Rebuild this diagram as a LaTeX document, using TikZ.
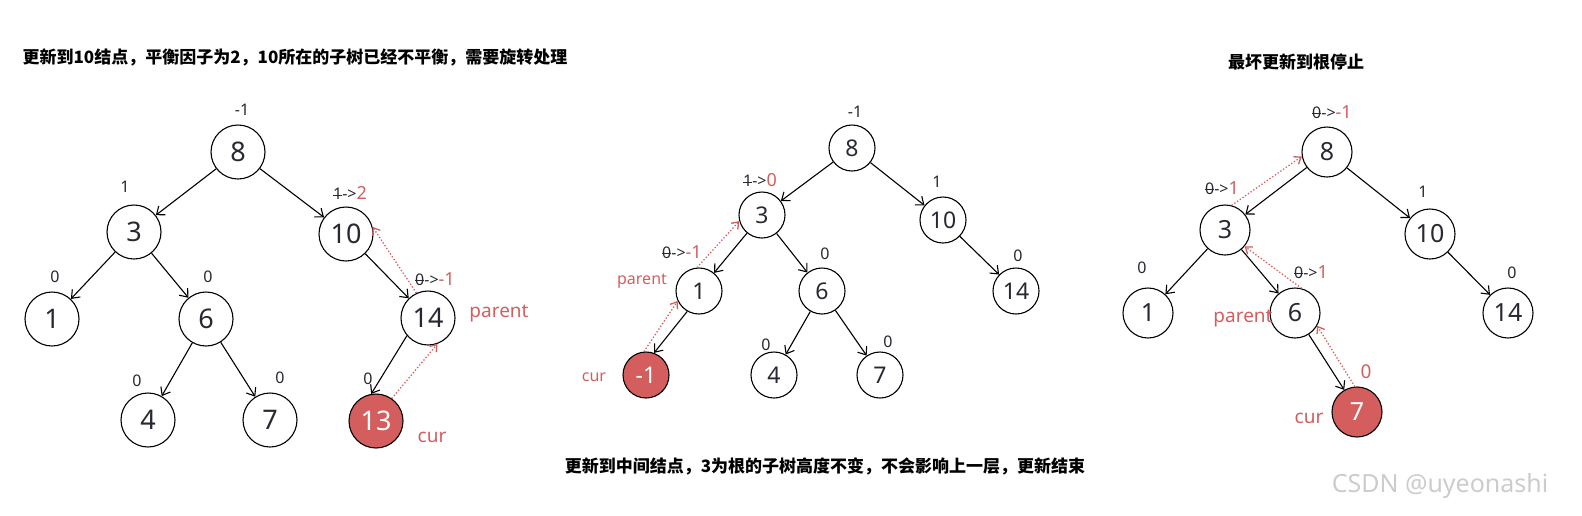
\documentclass[tikz,border=0pt]{standalone}
\usepackage{fontspec}
\setmainfont{Noto Sans CJK SC}
\newfontfamily\lbl{Noto Sans}
\usetikzlibrary{arrows.meta}
\definecolor{rd}{RGB}{212,94,94}
\definecolor{tx}{RGB}{40,40,50}
\newsavebox\stbox
\newcommand\strk[1]{\sbox\stbox{#1}\rlap{\rule[0.5ex]{\wd\stbox}{0.6pt}}\usebox\stbox}
\tikzset{
 nd/.style={circle,draw,line width=1.1pt,minimum size=#1,inner sep=0pt,font=\lbl\fontsize{27}{27}\selectfont,text=tx},
 nd/.default=54pt,
 hot/.style={fill=rd,text=white},
 bf/.style={font=\lbl\fontsize{16}{16}\selectfont,text=tx},
 rl/.style={font=\lbl\fontsize{19}{19}\selectfont,text=rd},
 ed/.style={-{Straight Barb[length=7pt,width=11pt]},line width=1.1pt},
 rp/.style={-{Straight Barb[length=6pt,width=9pt]},rd,dotted,line width=1.3pt},
 ti/.style={font=\bfseries\fontsize{17}{17}\selectfont}
}
\newcommand\rv[1]{\textcolor{rd}{\fontsize{18}{18}\selectfont #1}}
\begin{document}
\begin{tikzpicture}[x=1pt,y=-1pt]
\useasboundingbox (0,0) rectangle (1582,515);
\node[ti] at (295,57) {更新到10结点，平衡因子为2，10所在的子树已经不平衡，需要旋转处理};
\node[ti] at (1296,62) {最坏更新到根停止};
\node[ti] at (825,466) {更新到中间结点，3为根的子树高度不变，不会影响上一层，更新结束};
\node[text=gray!40,font=\lbl\fontsize{25}{25}\selectfont] at (1440,486) {CSDN @uyeonashi};
% tree 1
\node[nd] (a8) at (238,152) {8};
\node[nd] (a3) at (134,232) {3};
\node[nd] (a10) at (346,234) {10};
\node[nd] (a1) at (52,319) {1};
\node[nd] (a6) at (206,319) {6};
\node[nd] (a14) at (428,318) {14};
\node[nd] (a4) at (148,420) {4};
\node[nd] (a7) at (270,420) {7};
\node[nd,hot] (a13) at (376,421) {13};
\draw[ed] (a8)--(a3); \draw[ed] (a8)--(a10);
\draw[ed] (a3)--(a1); \draw[ed] (a3)--(a6);
\draw[ed] (a6)--(a4); \draw[ed] (a6)--(a7);
\draw[ed] (a10)--(a14); \draw[ed] (a14.220)--(a13.100);
\draw[rp] (a14.115)--(a10.15);
\draw[rp] (a13.55)--(a14.290);
\node[bf] (l1) at (242,110) {-1};
\node[bf] (l2) at (125,187) {1};
\node[bf] (l3) at (350,193) {\strk{1}->\rv{2}};
\node[bf] (l4) at (55,277) {0};
\node[bf] (l5) at (208,277) {0};
\node[bf] (l6) at (435,279) {\strk{0}->\rv{-1}};
\node[bf] (l7) at (137,381) {0};
\node[bf] (l8) at (280,378) {0};
\node[bf] (l9) at (368,379) {0};
\node[rl] (p1) at (499,314) {parent};
\node[rl] (c1) at (432,437) {cur};
% tree 2
\tikzset{sm/.style={nd=46pt,font=\lbl\fontsize{23}{23}\selectfont}}
\node[sm] (b8) at (852,148) {8};
\node[sm] (b3) at (762,215) {3};
\node[sm] (b10) at (943,220) {10};
\node[sm] (b1) at (699,291) {1};
\node[sm] (b6) at (822,291) {6};
\node[sm] (b14) at (1016,291) {14};
\node[sm,hot] (bm) at (646,375) {-1};
\node[sm] (b4) at (774,375) {4};
\node[sm] (b7) at (880,375) {7};
\draw[ed] (b8)--(b3); \draw[ed] (b8)--(b10);
\draw[ed] (b3)--(b1); \draw[ed] (b3)--(b6);
\draw[ed] (b6)--(b4); \draw[ed] (b6)--(b7);
\draw[ed] (b10)--(b14); \draw[ed] (b1.240)--(bm.70);
\draw[rp] (bm.95)--(b1.205);
\draw[rp] (b1.95)--(b3.195);
\node[bf] (m1) at (855,112) {-1};
\node[bf] (m2) at (760,180) {\strk{1}->\rv{0}};
\node[bf] (m3) at (937,182) {1};
\node[bf] (m4) at (682,252) {\strk{0}->\rv{-1}};
\node[bf] (m5) at (825,254) {0};
\node[bf] (m6) at (1018,256) {0};
\node[bf] (m7) at (766,345) {0};
\node[bf] (m8) at (888,342) {0};
\node[rl,font=\lbl\fontsize{16}{16}\selectfont] (p2) at (642,281) {parent};
\node[rl,font=\lbl\fontsize{16}{16}\selectfont] (c2) at (594,377) {cur};
% tree 3
\tikzset{md/.style={nd=50pt,font=\lbl\fontsize{25}{25}\selectfont}}
\node[md] (c8) at (1327,152) {8};
\node[md] (c3) at (1225,230) {3};
\node[md] (c10) at (1430,234) {10};
\node[md] (c1n) at (1148,313) {1};
\node[md] (c6) at (1295,313) {6};
\node[md] (c14) at (1508,313) {14};
\node[md,hot] (c7) at (1357,412) {7};
\draw[ed] (c8)--(c3); \draw[ed] (c8)--(c10);
\draw[ed] (c3)--(c1n); \draw[ed] (c3)--(c6);
\draw[ed] (c10)--(c14); \draw[ed] (c6)--(c7.120);
\draw[rp] (c7.95)--(c6.330);
\draw[rp] (c6.75)--(c3.320);
\draw[rp] (c3.75)--(c8.190);
\node[bf] (n1) at (1332,112) {\strk{0}->\rv{-1}};
\node[bf] (n2) at (1222,188) {\strk{0}->\rv{1}};
\node[bf] (n3) at (1423,192) {1};
\node[bf] (n4) at (1142,268) {0};
\node[bf] (n5) at (1311,272) {\strk{0}->\rv{1}};
\node[bf] (n6) at (1512,273) {0};
\node[rl] (n7) at (1366,372) {0};
\node[rl] (p3) at (1243,319) {parent};
\node[rl] (c3l) at (1309,418) {cur};
\end{tikzpicture}
\end{document}
